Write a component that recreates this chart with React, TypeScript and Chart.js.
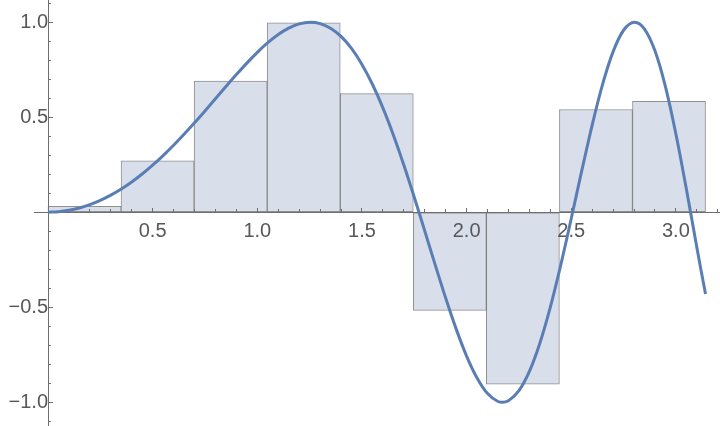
import React, { useEffect, useRef } from "react";
import { Chart, registerables } from "chart.js";

Chart.register(...registerables);

// Curve samples (x, y)
const curveX = [
  0, 0.05, 0.1, 0.15, 0.2, 0.25, 0.3, 0.35, 0.4, 0.45, 0.5, 0.55, 0.6, 0.65, 0.7,
  0.75, 0.8, 0.85, 0.9, 0.95, 1.0, 1.05, 1.1, 1.15, 1.2, 1.2533, 1.3, 1.35, 1.4,
  1.45, 1.5, 1.55, 1.6, 1.65, 1.7, 1.75, 1.8, 1.85, 1.9, 1.95, 2.0, 2.05, 2.1,
  2.15, 2.1708, 2.2, 2.25, 2.3, 2.35, 2.4, 2.45, 2.5, 2.55, 2.6, 2.65, 2.7, 2.75,
  2.8025, 2.85, 2.9, 2.95, 3.0, 3.05, 3.1, 3.12, 3.1416,
];
const curveY = [
  0, 0.0025, 0.01, 0.0225, 0.04, 0.0625, 0.0899, 0.1222, 0.1593, 0.2011, 0.2474,
  0.2979, 0.3523, 0.41, 0.4706, 0.5333, 0.5972, 0.6613, 0.7243, 0.7849, 0.8415,
  0.8923, 0.9356, 0.9693, 0.9915, 1.0, 0.9929, 0.9685, 0.9252, 0.862, 0.7781,
  0.6736, 0.5494, 0.4069, 0.249, 0.079, -0.0983, -0.2772, -0.4515, -0.6138,
  -0.7568, -0.8727, -0.9546, -0.996, -1.0, -0.9919, -0.9393, -0.8378, -0.6894,
  -0.4996, -0.277, -0.0332, 0.2176, 0.459, 0.6738, 0.8451, 0.9578, 1.0, 0.9642,
  0.8494, 0.6611, 0.4121, 0.122, -0.1842, -0.3048, -0.4303,
];

// Rectangles: centre of each interval and its height
const barCenters = [0.1745, 0.5236, 0.8727, 1.2217, 1.5708, 1.9199, 2.2689, 2.618, 2.9671];
const barHeights = [0.0305, 0.2707, 0.69, 0.997, 0.6243, -0.5167, -0.9055, 0.5405, 0.5834];

// Axis ranges and tick steps
const xRange = [-0.0669, 3.2107];
const yRange = [-1.125, 1.117];
const majorStep = 0.5;
const minorStep = 0.1;

const AXIS = "#6e6e6e";
const LABEL = "#585858";
const FONT = { family: "'Liberation Sans', Arial, sans-serif", size: 20 };
const PAD = { left: 34, top: 0, right: 0, bottom: 0 };

const fmt = (v: any) => {
  const n = Number(v);
  if (Math.abs(n) < 1e-9) return "";
  const s = Math.abs(n).toFixed(1);
  return n < 0 ? "\u2212" + s : s;
};

const noPad = (s: any) => {
  s.paddingTop = 0;
  s.paddingBottom = 0;
  s.paddingLeft = 0;
  s.paddingRight = 0;
};

const axisScale = (horizontal: boolean, step: number, tick: number, labels: boolean, border: boolean) => ({
  type: "linear",
  min: horizontal ? xRange[0] : yRange[0],
  max: horizontal ? xRange[1] : yRange[1],
  offset: false,
  position: (horizontal ? { y: 0 } : { x: 0 }) as any,
  border: { display: border, color: AXIS, width: 1, z: 1 },
  grid: { drawOnChartArea: false, offset: false, tickLength: tick, color: AXIS, z: 1 },
  ticks: {
    stepSize: step,
    includeBounds: false,
    autoSkip: false,
    maxRotation: 0,
    padding: horizontal ? 12 : 5,
    callback: labels ? fmt : () => "",
    font: FONT,
    color: LABEL,
    z: 1,
  },
  afterFit: noPad,
});

export default function App() {
  const baseRef = useRef<HTMLCanvasElement>(null);
  const topRef = useRef<HTMLCanvasElement>(null);

  useEffect(() => {
    // Bottom layer: rectangles and axes
    const base = new Chart(baseRef.current!, {
      type: "bar",
      data: {
        datasets: [
          {
            data: barCenters.map((x, i) => ({ x, y: barHeights[i] })),
            xAxisID: "x",
            yAxisID: "y",
            backgroundColor: "rgb(216,223,235)",
            borderColor: "rgba(70,70,70,0.6)",
            borderWidth: 1,
            borderSkipped: false,
            barPercentage: 1,
            categoryPercentage: 1,
          } as any,
        ],
      },
      options: {
        animation: false,
        responsive: false,
        devicePixelRatio: 1,
        layout: { padding: PAD },
        plugins: { legend: { display: false }, tooltip: { enabled: false } },
        scales: {
          x: axisScale(true, majorStep, -5, true, true),
          xMinor: axisScale(true, minorStep, -3, false, false),
          y: axisScale(false, majorStep, -5, true, true),
          yMinor: axisScale(false, minorStep, -3, false, false),
        },
      } as any,
    });

    // Top layer: the curve, drawn above the tick labels
    const top = new Chart(topRef.current!, {
      type: "scatter",
      data: {
        datasets: [
          {
            data: curveX.map((x, i) => ({ x, y: curveY[i] })),
            showLine: true,
            borderColor: "#5A7EB4",
            borderWidth: 3,
            pointRadius: 0,
            cubicInterpolationMode: "monotone",
            fill: false,
          } as any,
        ],
      },
      options: {
        animation: false,
        responsive: false,
        devicePixelRatio: 1,
        layout: { padding: PAD },
        plugins: { legend: { display: false }, tooltip: { enabled: false } },
        scales: {
          x: { type: "linear", display: false, min: xRange[0], max: xRange[1], offset: false },
          y: { type: "linear", display: false, min: yRange[0], max: yRange[1], offset: false },
        },
      } as any,
    });

    return () => {
      base.destroy();
      top.destroy();
    };
  }, []);

  return (
    <div style={{ position: "fixed", left: 0, top: 0, width: 720, height: 426, background: "#fff" }}>
      <canvas ref={baseRef} width={720} height={426} style={{ position: "absolute", left: 0, top: 0, display: "block" }} />
      <canvas ref={topRef} width={720} height={426} style={{ position: "absolute", left: 0, top: 0, display: "block" }} />
    </div>
  );
}
